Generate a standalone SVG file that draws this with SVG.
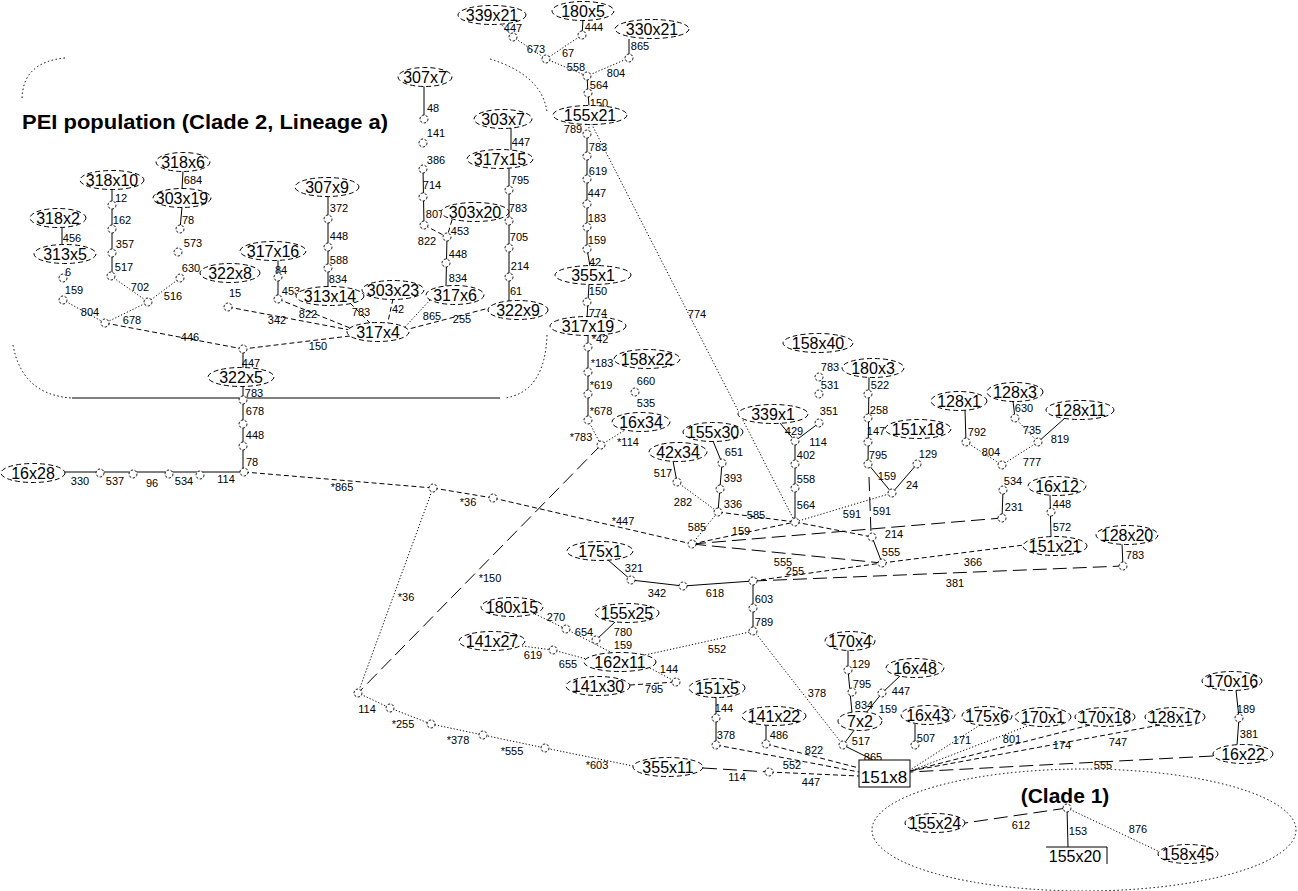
<svg xmlns="http://www.w3.org/2000/svg" width="1298" height="891" viewBox="0 0 1298 891">
<style>
text{font-family:"Liberation Sans",Arial,Helvetica,sans-serif;fill:#000}
.t{font-size:16px;text-anchor:middle}
.l{font-size:11px;text-anchor:middle}
.h{font-size:20px;font-weight:bold}
line,.p{stroke:#000;stroke-width:1;fill:none}
.d{stroke-dasharray:1.2 2}
.k{stroke-dasharray:5 3}
.g{stroke-dasharray:14 6}
ellipse{fill:#fff;stroke:#000;stroke-width:1;stroke-dasharray:5 3}
circle{fill:#fff;stroke:#000;stroke-width:0.9;stroke-dasharray:2.5 1.5}
.b{fill:none;stroke:#000;stroke-width:1;stroke-dasharray:1.5 2.5}
rect.box{fill:#fff;stroke:#000;stroke-width:1}
</style>
<rect width="1298" height="891" fill="#fff"/>
<g id="regions">
<path class="b" d="M65,58 Q22,62 22,100"/>
<path class="b" d="M490,59 Q542,75 547,112"/>
<path class="b" d="M547,335 Q545,392 505,398"/>
<path class="b" d="M13,345 Q22,395 72,398"/>
<line x1="72" y1="398" x2="500" y2="398"/>
<text class="h" x="22" y="129" textLength="366" lengthAdjust="spacingAndGlyphs">PEI population (Clade 2, Lineage a)</text>
<ellipse class="b" cx="1084" cy="830" rx="212" ry="61"/>
<text class="h" x="1065" y="803" text-anchor="middle" style="font-size:21px">(Clade 1)</text>
</g>
<g id="connectors">
<line class="d" x1="500" y1="23" x2="513" y2="37"/>
<line class="d" x1="513" y1="37" x2="546" y2="59"/>
<line x1="583" y1="20" x2="582" y2="35"/>
<line class="d" x1="582" y1="35" x2="546" y2="59"/>
<line class="d" x1="546" y1="59" x2="587" y2="76"/>
<line x1="629" y1="39" x2="629" y2="58"/>
<line class="d" x1="629" y1="58" x2="587" y2="76"/>
<line x1="587" y1="76" x2="588" y2="93"/>
<line x1="588" y1="93" x2="589" y2="106"/>
<line class="d" x1="590" y1="124" x2="587" y2="134"/>
<line x1="587" y1="134" x2="587" y2="249"/>
<line x1="587" y1="249" x2="590" y2="266"/>
<line x1="589" y1="284" x2="587" y2="318"/>
<line x1="588" y1="335" x2="588" y2="420"/>
<line class="d" x1="588" y1="420" x2="601" y2="445"/>
<line class="d" x1="601" y1="445" x2="625" y2="430"/>
<line class="d" x1="590" y1="121" x2="795" y2="522"/>
<line class="g" x1="601" y1="445" x2="358" y2="693"/>
<line x1="243" y1="386" x2="243" y2="472"/>
<line x1="65" y1="472" x2="244" y2="472"/>
<line class="k" x1="244" y1="472" x2="433" y2="488"/>
<line class="k" x1="433" y1="488" x2="493" y2="498"/>
<line class="k" x1="493" y1="498" x2="692" y2="544"/>
<line class="d" x1="433" y1="488" x2="358" y2="693"/>
<path class="p d" d="M358,693 L390,708 L431,724 L483,735 L545,748 L633,766"/>
<line class="g" x1="703" y1="768" x2="769" y2="772"/>
<line class="k" x1="769" y1="772" x2="859" y2="776"/>
<line class="d" x1="692" y1="544" x2="718" y2="512"/>
<line x1="673" y1="461" x2="677" y2="482"/>
<line class="d" x1="677" y1="482" x2="718" y2="512"/>
<line x1="713" y1="441" x2="722" y2="463"/>
<line x1="722" y1="463" x2="718" y2="512"/>
<line class="k" x1="718" y1="512" x2="795" y2="522"/>
<line class="k" x1="692" y1="544" x2="795" y2="522"/>
<line x1="780" y1="423" x2="795" y2="441"/>
<line x1="819" y1="423" x2="795" y2="441"/>
<line x1="795" y1="441" x2="795" y2="522"/>
<line x1="869" y1="377" x2="868" y2="464"/>
<line x1="868" y1="464" x2="892" y2="493"/>
<line x1="917" y1="464" x2="892" y2="493"/>
<line class="d" x1="892" y1="493" x2="795" y2="522"/>
<line class="g" x1="869" y1="477" x2="871" y2="533"/>
<line x1="872" y1="537" x2="882" y2="563"/>
<line class="k" x1="795" y1="522" x2="872" y2="537"/>
<line class="g" x1="692" y1="544" x2="882" y2="563"/>
<line class="g" x1="692" y1="544" x2="1002" y2="518"/>
<line class="k" x1="753" y1="581" x2="882" y2="563"/>
<line class="k" x1="882" y1="563" x2="1024" y2="545"/>
<line class="g" x1="753" y1="581" x2="1123" y2="566"/>
<line x1="1122" y1="544" x2="1123" y2="566"/>
<line x1="965" y1="410" x2="966" y2="442"/>
<line x1="1013" y1="401" x2="1015" y2="418"/>
<line class="d" x1="1015" y1="418" x2="1038" y2="442"/>
<line x1="1065" y1="418" x2="1038" y2="442"/>
<line class="d" x1="966" y1="442" x2="1002" y2="465"/>
<line class="d" x1="1038" y1="442" x2="1002" y2="465"/>
<line x1="1003" y1="490" x2="1002" y2="518"/>
<line x1="1050" y1="495" x2="1051" y2="537"/>
<line x1="608" y1="560" x2="631" y2="580"/>
<line x1="631" y1="580" x2="683" y2="586"/>
<line x1="683" y1="586" x2="753" y2="581"/>
<line x1="753" y1="581" x2="753" y2="631"/>
<line class="d" x1="535" y1="614" x2="566" y2="629"/>
<line class="d" x1="566" y1="629" x2="620" y2="657"/>
<line x1="615" y1="622" x2="596" y2="640"/>
<line class="d" x1="522" y1="646" x2="553" y2="650"/>
<line class="d" x1="553" y1="650" x2="590" y2="660"/>
<line class="d" x1="645" y1="655" x2="754" y2="631"/>
<line class="d" x1="650" y1="668" x2="676" y2="682"/>
<line class="k" x1="630" y1="685" x2="676" y2="682"/>
<line class="d" x1="754" y1="631" x2="843" y2="745"/>
<line x1="716" y1="697" x2="716" y2="745"/>
<line x1="766" y1="725" x2="766" y2="744"/>
<line class="k" x1="766" y1="744" x2="859" y2="768"/>
<line class="k" x1="716" y1="745" x2="859" y2="772"/>
<line x1="848" y1="650" x2="848" y2="670"/>
<line x1="848" y1="670" x2="852" y2="713"/>
<line x1="900" y1="676" x2="882" y2="693"/>
<line x1="882" y1="693" x2="866" y2="713"/>
<line x1="855" y1="729" x2="843" y2="745"/>
<line x1="843" y1="745" x2="877" y2="762"/>
<line x1="915" y1="724" x2="915" y2="745"/>
<line class="d" x1="980" y1="725" x2="910" y2="770"/>
<line class="d" x1="1030" y1="725" x2="910" y2="771"/>
<line class="k" x1="1090" y1="725" x2="910" y2="771"/>
<line class="k" x1="1160" y1="725" x2="910" y2="771"/>
<line class="g" x1="1213" y1="756" x2="910" y2="772"/>
<line x1="1236" y1="690" x2="1239" y2="718"/>
<line x1="1239" y1="718" x2="1237" y2="745"/>
<line class="g" x1="1067" y1="808" x2="965" y2="823"/>
<line x1="1067" y1="808" x2="1068" y2="847"/>
<line class="d" x1="1067" y1="808" x2="1160" y2="852"/>
<line x1="183" y1="171" x2="182" y2="189"/>
<line x1="182" y1="207" x2="180" y2="229"/>
<line class="d" x1="180" y1="278" x2="148" y2="302"/>
<line x1="112" y1="189" x2="112" y2="276"/>
<line class="d" x1="111" y1="276" x2="148" y2="302"/>
<line x1="62" y1="227" x2="62" y2="245"/>
<line class="d" x1="63" y1="300" x2="105" y2="323"/>
<line class="d" x1="148" y1="302" x2="105" y2="323"/>
<line class="k" x1="105" y1="323" x2="243" y2="349"/>
<line x1="243" y1="349" x2="243" y2="368"/>
<line class="k" x1="350" y1="336" x2="243" y2="349"/>
<line class="k" x1="228" y1="307" x2="350" y2="330"/>
<line x1="278" y1="260" x2="278" y2="299"/>
<line class="k" x1="278" y1="299" x2="350" y2="328"/>
<line x1="328" y1="196" x2="328" y2="287"/>
<line class="k" x1="350" y1="303" x2="370" y2="323"/>
<line class="k" x1="393" y1="299" x2="387" y2="326"/>
<line class="d" x1="430" y1="300" x2="405" y2="327"/>
<line class="k" x1="493" y1="307" x2="405" y2="330"/>
<line x1="424" y1="86" x2="424" y2="119"/>
<line x1="423" y1="169" x2="424" y2="225"/>
<line class="k" x1="424" y1="225" x2="447" y2="237"/>
<line class="k" x1="452" y1="220" x2="447" y2="237"/>
<line x1="447" y1="237" x2="446" y2="286"/>
<line x1="511" y1="128" x2="511" y2="150"/>
<line x1="509" y1="168" x2="509" y2="301"/>
<g id="edge-labels">
<text class="l" x="513" y="32">447</text><text class="l" x="536" y="53">673</text><text class="l" x="594" y="31">444</text><text class="l" x="568" y="57">67</text><text class="l" x="576" y="71">558</text><text class="l" x="640" y="50">865</text><text class="l" x="616" y="77">804</text><text class="l" x="599" y="89">564</text><text class="l" x="599" y="107">150</text>
<text class="l" x="573" y="133">789</text><text class="l" x="598" y="151">783</text><text class="l" x="598" y="175">619</text><text class="l" x="597" y="197">447</text><text class="l" x="597" y="222">183</text><text class="l" x="597" y="244">159</text><text class="l" x="595" y="266">42</text>
<text class="l" x="598" y="295">150</text><text class="l" x="598" y="317">774</text><text class="l" x="600" y="343">*42</text><text class="l" x="602" y="367">*183</text><text class="l" x="601" y="389">*619</text><text class="l" x="601" y="415">*678</text><text class="l" x="581" y="441">*783</text><text class="l" x="628" y="446">*114</text>
<text class="l" x="646" y="385">660</text><text class="l" x="646" y="407">535</text><text class="l" x="697" y="318">774</text><text class="l" x="490" y="582">*150</text>
<text class="l" x="254" y="397">783</text><text class="l" x="255" y="415">678</text><text class="l" x="255" y="439">448</text><text class="l" x="252" y="466">78</text>
<text class="l" x="80" y="485">330</text><text class="l" x="115" y="485">537</text><text class="l" x="152" y="487">96</text><text class="l" x="184" y="485">534</text><text class="l" x="226" y="483">114</text>
<text class="l" x="342" y="491">*865</text><text class="l" x="468" y="506">*36</text><text class="l" x="623" y="525">*447</text><text class="l" x="406" y="601">*36</text>
<text class="l" x="367" y="713">114</text><text class="l" x="403" y="728">*255</text><text class="l" x="458" y="744">*378</text><text class="l" x="512" y="755">*555</text><text class="l" x="597" y="769">*603</text><text class="l" x="737" y="781">114</text><text class="l" x="811" y="786">447</text>
<text class="l" x="697" y="531">585</text><text class="l" x="663" y="477">517</text><text class="l" x="683" y="506">282</text><text class="l" x="734" y="456">651</text><text class="l" x="733" y="482">393</text><text class="l" x="733" y="508">336</text><text class="l" x="756" y="519">585</text><text class="l" x="741" y="535">159</text>
<text class="l" x="794" y="435">429</text><text class="l" x="818" y="446">114</text><text class="l" x="830" y="371">783</text><text class="l" x="830" y="389">531</text><text class="l" x="829" y="415">351</text><text class="l" x="806" y="459">402</text><text class="l" x="806" y="483">558</text><text class="l" x="806" y="509">564</text>
<text class="l" x="880" y="389">522</text><text class="l" x="879" y="414">258</text><text class="l" x="876" y="435">147</text><text class="l" x="878" y="459">795</text><text class="l" x="887" y="480">159</text><text class="l" x="928" y="458">129</text><text class="l" x="912" y="489">24</text><text class="l" x="852" y="518">591</text><text class="l" x="882" y="515">591</text><text class="l" x="894" y="538">214</text><text class="l" x="891" y="556">555</text><text class="l" x="783" y="566">555</text><text class="l" x="795" y="575">255</text><text class="l" x="973" y="566">366</text><text class="l" x="955" y="587">381</text><text class="l" x="1135" y="559">783</text>
<text class="l" x="977" y="436">792</text><text class="l" x="1024" y="412">630</text><text class="l" x="1032" y="434">735</text><text class="l" x="1060" y="443">819</text><text class="l" x="991" y="456">804</text><text class="l" x="1032" y="466">777</text><text class="l" x="1013" y="485">534</text><text class="l" x="1014" y="511">231</text><text class="l" x="1062" y="508">448</text><text class="l" x="1062" y="531">572</text>
<text class="l" x="634" y="572">321</text><text class="l" x="657" y="597">342</text><text class="l" x="715" y="597">618</text><text class="l" x="764" y="603">603</text><text class="l" x="764" y="626">789</text>
<text class="l" x="556" y="621">270</text><text class="l" x="584" y="636">654</text><text class="l" x="623" y="636">780</text><text class="l" x="623" y="649">159</text><text class="l" x="533" y="659">619</text><text class="l" x="568" y="668">655</text><text class="l" x="717" y="653">552</text><text class="l" x="669" y="673">144</text><text class="l" x="654" y="693">795</text><text class="l" x="817" y="697">378</text>
<text class="l" x="724" y="712">144</text><text class="l" x="726" y="739">378</text><text class="l" x="779" y="739">486</text><text class="l" x="814" y="754">822</text><text class="l" x="792" y="769">552</text>
<text class="l" x="861" y="668">129</text><text class="l" x="862" y="688">795</text><text class="l" x="864" y="709">834</text><text class="l" x="901" y="695">447</text><text class="l" x="888" y="713">159</text><text class="l" x="861" y="745">517</text><text class="l" x="873" y="761">865</text><text class="l" x="926" y="742">507</text>
<text class="l" x="962" y="744">171</text><text class="l" x="1012" y="743">801</text><text class="l" x="1062" y="749">174</text><text class="l" x="1118" y="746">747</text><text class="l" x="1103" y="769">555</text><text class="l" x="1246" y="713">189</text><text class="l" x="1249" y="738">381</text>
<text class="l" x="1021" y="829">612</text><text class="l" x="1078" y="835">153</text><text class="l" x="1138" y="833">876</text>
<text class="l" x="193" y="184">684</text><text class="l" x="188" y="224">78</text><text class="l" x="193" y="247">573</text><text class="l" x="191" y="272">630</text><text class="l" x="173" y="300">516</text>
<text class="l" x="121" y="202">12</text><text class="l" x="122" y="224">162</text><text class="l" x="125" y="248">357</text><text class="l" x="124" y="271">517</text><text class="l" x="140" y="291">702</text>
<text class="l" x="72" y="242">456</text><text class="l" x="68" y="276">6</text><text class="l" x="74" y="294">159</text><text class="l" x="90" y="316">804</text><text class="l" x="132" y="324">678</text><text class="l" x="190" y="341">446</text><text class="l" x="251" y="367">447</text><text class="l" x="318" y="350">150</text>
<text class="l" x="235" y="297">15</text><text class="l" x="277" y="324">342</text><text class="l" x="281" y="274">84</text><text class="l" x="291" y="295">453</text><text class="l" x="308" y="318">822</text>
<text class="l" x="339" y="212">372</text><text class="l" x="339" y="240">448</text><text class="l" x="339" y="264">588</text><text class="l" x="338" y="283">834</text><text class="l" x="361" y="316">783</text><text class="l" x="398" y="313">42</text><text class="l" x="432" y="320">865</text><text class="l" x="462" y="323">255</text>
<text class="l" x="433" y="112">48</text><text class="l" x="436" y="137">141</text><text class="l" x="436" y="164">386</text><text class="l" x="432" y="189">714</text><text class="l" x="435" y="218">807</text><text class="l" x="427" y="245">822</text><text class="l" x="460" y="235">453</text><text class="l" x="458" y="258">448</text><text class="l" x="458" y="282">834</text>
<text class="l" x="521" y="146">447</text><text class="l" x="520" y="184">795</text><text class="l" x="518" y="212">783</text><text class="l" x="519" y="241">705</text><text class="l" x="520" y="270">214</text><text class="l" x="516" y="295">61</text>
</g>
</g>
<g id="vertices">
<circle cx="513" cy="37" r="4"/><circle cx="546" cy="59" r="4"/><circle cx="582" cy="35" r="4"/><circle cx="629" cy="58" r="4"/><circle cx="587" cy="76" r="4"/><circle cx="588" cy="93" r="4"/>
<circle cx="587" cy="134" r="4"/><circle cx="587" cy="156" r="4"/><circle cx="587" cy="179" r="4"/><circle cx="587" cy="204" r="4"/><circle cx="587" cy="227" r="4"/><circle cx="587" cy="249" r="4"/><circle cx="587" cy="302" r="4"/><circle cx="588" cy="347" r="4"/><circle cx="588" cy="372" r="4"/><circle cx="588" cy="394" r="4"/><circle cx="588" cy="420" r="4"/><circle cx="601" cy="445" r="4"/><circle cx="635" cy="392" r="4"/>
<circle cx="180" cy="229" r="4"/><circle cx="178" cy="252" r="4"/><circle cx="180" cy="278" r="4"/><circle cx="148" cy="302" r="4"/><circle cx="112" cy="205" r="4"/><circle cx="112" cy="229" r="4"/><circle cx="112" cy="253" r="4"/><circle cx="111" cy="276" r="4"/><circle cx="63" cy="278" r="4"/><circle cx="63" cy="300" r="4"/><circle cx="105" cy="323" r="4"/><circle cx="243" cy="349" r="4"/><circle cx="228" cy="307" r="4"/><circle cx="278" cy="277" r="4"/><circle cx="278" cy="299" r="4"/><circle cx="328" cy="219" r="4"/><circle cx="328" cy="247" r="4"/><circle cx="328" cy="268" r="4"/>
<circle cx="424" cy="119" r="4"/><circle cx="423" cy="143" r="4"/><circle cx="423" cy="169" r="4"/><circle cx="423" cy="197" r="4"/><circle cx="424" cy="225" r="4"/><circle cx="447" cy="237" r="4"/><circle cx="446" cy="263" r="4"/><circle cx="509" cy="190" r="4"/><circle cx="509" cy="221" r="4"/><circle cx="509" cy="248" r="4"/><circle cx="509" cy="277" r="4"/>
<circle cx="243" cy="400" r="4"/><circle cx="243" cy="424" r="4"/><circle cx="243" cy="446" r="4"/><circle cx="244" cy="472" r="4"/><circle cx="100" cy="473" r="4"/><circle cx="133" cy="474" r="4"/><circle cx="169" cy="474" r="4"/><circle cx="200" cy="475" r="4"/><circle cx="433" cy="488" r="4"/><circle cx="493" cy="498" r="4"/><circle cx="358" cy="693" r="4"/><circle cx="390" cy="708" r="4"/><circle cx="431" cy="724" r="4"/><circle cx="483" cy="735" r="4"/><circle cx="545" cy="748" r="4"/>
<circle cx="692" cy="544" r="4"/><circle cx="718" cy="512" r="4"/><circle cx="677" cy="482" r="4"/><circle cx="722" cy="463" r="4"/><circle cx="720" cy="489" r="4"/><circle cx="795" cy="522" r="4"/><circle cx="795" cy="441" r="4"/><circle cx="795" cy="464" r="4"/><circle cx="795" cy="488" r="4"/><circle cx="819" cy="377" r="4"/><circle cx="819" cy="394" r="4"/><circle cx="819" cy="423" r="4"/>
<circle cx="868" cy="394" r="4"/><circle cx="868" cy="418" r="4"/><circle cx="868" cy="442" r="4"/><circle cx="868" cy="464" r="4"/><circle cx="892" cy="493" r="4"/><circle cx="917" cy="464" r="4"/><circle cx="872" cy="537" r="4"/><circle cx="882" cy="563" r="4"/><circle cx="966" cy="442" r="4"/><circle cx="1015" cy="418" r="4"/><circle cx="1038" cy="442" r="4"/><circle cx="1002" cy="465" r="4"/><circle cx="1003" cy="490" r="4"/><circle cx="1002" cy="518" r="4"/><circle cx="1051" cy="512" r="4"/><circle cx="1123" cy="566" r="4"/>
<circle cx="631" cy="580" r="4"/><circle cx="683" cy="586" r="4"/><circle cx="753" cy="581" r="4"/><circle cx="753" cy="608" r="4"/><circle cx="753" cy="631" r="4"/><circle cx="566" cy="629" r="4"/><circle cx="596" cy="640" r="4"/><circle cx="553" cy="650" r="4"/><circle cx="676" cy="682" r="4"/><circle cx="716" cy="718" r="4"/><circle cx="716" cy="745" r="4"/><circle cx="766" cy="744" r="4"/><circle cx="769" cy="772" r="4"/><circle cx="848" cy="670" r="4"/><circle cx="852" cy="692" r="4"/><circle cx="882" cy="693" r="4"/><circle cx="843" cy="745" r="4"/><circle cx="915" cy="745" r="4"/><circle cx="1239" cy="718" r="4"/><circle cx="1067" cy="808" r="4"/>
</g>
<g id="n339x21"><ellipse cx="492" cy="15" rx="34" ry="9.5"/><text class="t" x="492" y="21">339x21</text></g>
<g id="n180x5"><ellipse cx="583" cy="11" rx="31" ry="9.5"/><text class="t" x="583" y="17">180x5</text></g>
<g id="n330x21"><ellipse cx="652" cy="29" rx="37" ry="9.5"/><text class="t" x="652" y="35">330x21</text></g>
<g id="n155x21"><ellipse cx="590" cy="115" rx="37" ry="9.5"/><text class="t" x="590" y="121">155x21</text></g>
<g id="n318x6"><ellipse cx="183" cy="162" rx="27" ry="9.5"/><text class="t" x="183" y="168">318x6</text></g>
<g id="n303x19"><ellipse cx="182" cy="198" rx="29" ry="9.5"/><text class="t" x="182" y="204">303x19</text></g>
<g id="n318x10"><ellipse cx="112" cy="180" rx="32" ry="9.5"/><text class="t" x="112" y="186">318x10</text></g>
<g id="n318x2"><ellipse cx="58" cy="218" rx="28" ry="9.5"/><text class="t" x="58" y="224">318x2</text></g>
<g id="n313x5"><ellipse cx="65" cy="254" rx="31" ry="9.5"/><text class="t" x="65" y="260">313x5</text></g>
<g id="n322x8"><ellipse cx="230" cy="273" rx="30" ry="9.5"/><text class="t" x="230" y="279">322x8</text></g>
<g id="n317x16"><ellipse cx="273" cy="251" rx="33" ry="9.5"/><text class="t" x="273" y="257">317x16</text></g>
<g id="n307x9"><ellipse cx="327" cy="187" rx="32" ry="9.5"/><text class="t" x="327" y="193">307x9</text></g>
<g id="n313x14"><ellipse cx="330" cy="296" rx="34" ry="9.5"/><text class="t" x="330" y="302">313x14</text></g>
<g id="n303x23"><ellipse cx="393" cy="290" rx="31" ry="9.5"/><text class="t" x="393" y="296">303x23</text></g>
<g id="n317x4"><ellipse cx="378" cy="332" rx="31" ry="9.5"/><text class="t" x="378" y="338">317x4</text></g>
<g id="n322x5"><ellipse cx="241" cy="377" rx="33" ry="9.5"/><text class="t" x="241" y="383">322x5</text></g>
<g id="n307x7"><ellipse cx="425" cy="77" rx="27" ry="9.5"/><text class="t" x="425" y="83">307x7</text></g>
<g id="n303x20"><ellipse cx="475" cy="212" rx="34" ry="9.5"/><text class="t" x="475" y="218">303x20</text></g>
<g id="n317x6"><ellipse cx="455" cy="295" rx="29" ry="9.5"/><text class="t" x="455" y="301">317x6</text></g>
<g id="n303x7"><ellipse cx="503" cy="119" rx="29" ry="9.5"/><text class="t" x="503" y="125">303x7</text></g>
<g id="n317x15"><ellipse cx="500" cy="159" rx="33" ry="9.5"/><text class="t" x="500" y="165">317x15</text></g>
<g id="n322x9"><ellipse cx="518" cy="310" rx="30" ry="9.5"/><text class="t" x="518" y="316">322x9</text></g>
<g id="n355x1"><ellipse cx="593" cy="275" rx="38" ry="9.5"/><text class="t" x="593" y="281">355x1</text></g>
<g id="n317x19"><ellipse cx="588" cy="326" rx="38" ry="9.5"/><text class="t" x="588" y="332">317x19</text></g>
<g id="n158x22"><ellipse cx="647" cy="359" rx="33" ry="9.5"/><text class="t" x="647" y="365">158x22</text></g>
<g id="n16x34"><ellipse cx="641" cy="422" rx="29" ry="9.5"/><text class="t" x="641" y="428">16x34</text></g>
<g id="n42x34"><ellipse cx="678" cy="452" rx="29" ry="9.5"/><text class="t" x="678" y="458">42x34</text></g>
<g id="n155x30"><ellipse cx="713" cy="432" rx="30" ry="9.5"/><text class="t" x="713" y="438">155x30</text></g>
<g id="n339x1"><ellipse cx="773" cy="414" rx="35" ry="9.5"/><text class="t" x="773" y="420">339x1</text></g>
<g id="n158x40"><ellipse cx="818" cy="343" rx="35" ry="9.5"/><text class="t" x="818" y="349">158x40</text></g>
<g id="n180x3"><ellipse cx="873" cy="368" rx="31" ry="9.5"/><text class="t" x="873" y="374">180x3</text></g>
<g id="n151x18"><ellipse cx="918" cy="429" rx="33" ry="9.5"/><text class="t" x="918" y="435">151x18</text></g>
<g id="n128x1"><ellipse cx="959" cy="401" rx="28" ry="9.5"/><text class="t" x="959" y="407">128x1</text></g>
<g id="n128x3"><ellipse cx="1015" cy="392" rx="28" ry="9.5"/><text class="t" x="1015" y="398">128x3</text></g>
<g id="n128x11"><ellipse cx="1080" cy="410" rx="34" ry="9.5"/><text class="t" x="1080" y="416">128x11</text></g>
<g id="n16x12"><ellipse cx="1057" cy="486" rx="29" ry="9.5"/><text class="t" x="1057" y="492">16x12</text></g>
<g id="n151x21"><ellipse cx="1055" cy="546" rx="32" ry="9.5"/><text class="t" x="1055" y="552">151x21</text></g>
<g id="n128x20"><ellipse cx="1127" cy="535" rx="31" ry="9.5"/><text class="t" x="1127" y="541">128x20</text></g>
<g id="n16x28"><ellipse cx="33" cy="473" rx="32" ry="9.5"/><text class="t" x="33" y="479">16x28</text></g>
<g id="n175x1"><ellipse cx="600" cy="551" rx="33" ry="9.5"/><text class="t" x="600" y="557">175x1</text></g>
<g id="n180x15"><ellipse cx="512" cy="607" rx="31" ry="9.5"/><text class="t" x="512" y="613">180x15</text></g>
<g id="n155x25"><ellipse cx="627" cy="613" rx="32" ry="9.5"/><text class="t" x="627" y="619">155x25</text></g>
<g id="n141x27"><ellipse cx="492" cy="641" rx="33" ry="9.5"/><text class="t" x="492" y="647">141x27</text></g>
<g id="n162x11"><ellipse cx="620" cy="662" rx="36" ry="9.5"/><text class="t" x="620" y="668">162x11</text></g>
<g id="n141x30"><ellipse cx="598" cy="686" rx="32" ry="9.5"/><text class="t" x="598" y="692">141x30</text></g>
<g id="n151x5"><ellipse cx="717" cy="688" rx="28" ry="9.5"/><text class="t" x="717" y="694">151x5</text></g>
<g id="n141x22"><ellipse cx="774" cy="716" rx="32" ry="9.5"/><text class="t" x="774" y="722">141x22</text></g>
<g id="n355x11"><ellipse cx="668" cy="767" rx="35" ry="9.5"/><text class="t" x="668" y="773">355x11</text></g>
<g id="n170x4"><ellipse cx="850" cy="641" rx="25" ry="9.5"/><text class="t" x="850" y="647">170x4</text></g>
<g id="n16x48"><ellipse cx="915" cy="668" rx="29" ry="9.5"/><text class="t" x="915" y="674">16x48</text></g>
<g id="n7x2"><ellipse cx="860" cy="721" rx="22" ry="9.5"/><text class="t" x="860" y="727">7x2</text></g>
<g id="n16x43"><ellipse cx="928" cy="715" rx="27" ry="9.5"/><text class="t" x="928" y="721">16x43</text></g>
<g id="n175x6"><ellipse cx="987" cy="716" rx="25" ry="9.5"/><text class="t" x="987" y="722">175x6</text></g>
<g id="n170x1"><ellipse cx="1043" cy="717" rx="28" ry="9.5"/><text class="t" x="1043" y="723">170x1</text></g>
<g id="n170x18"><ellipse cx="1105" cy="717" rx="30" ry="9.5"/><text class="t" x="1105" y="723">170x18</text></g>
<g id="n128x17"><ellipse cx="1175" cy="717" rx="30" ry="9.5"/><text class="t" x="1175" y="723">128x17</text></g>
<g id="n170x16"><ellipse cx="1232" cy="681" rx="30" ry="9.5"/><text class="t" x="1232" y="687">170x16</text></g>
<g id="n16x22"><ellipse cx="1243" cy="754" rx="30" ry="9.5"/><text class="t" x="1243" y="760">16x22</text></g>
<g id="n155x24"><ellipse cx="935" cy="823" rx="30" ry="9.5"/><text class="t" x="935" y="829">155x24</text></g>
<g id="n158x45"><ellipse cx="1188" cy="854" rx="30" ry="9.5"/><text class="t" x="1188" y="860">158x45</text></g>
<g id="n151x8"><rect class="box" x="859" y="760" width="51" height="27"/><text class="t" x="884" y="783" style="font-size:17px">151x8</text></g>
<g id="n155x20"><path class="p" d="M1046,847 H1107 V864"/><text class="t" x="1075" y="862">155x20</text></g>
</svg>
